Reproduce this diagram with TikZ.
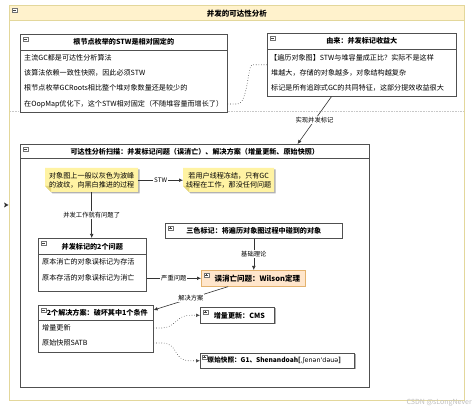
\documentclass[tikz,border=0pt]{standalone}
\usepackage{fontspec}
\setmainfont{Noto Sans CJK SC}
\newfontfamily\ipafont{DejaVu Sans}
\usetikzlibrary{arrows.meta,calc,shadows}

\definecolor{outerline}{HTML}{E3D79B}
\definecolor{outerhead}{HTML}{FFF2CC}
\definecolor{notefill}{HTML}{FFF3A3}
\definecolor{notefold}{HTML}{E6D77A}
\definecolor{wilfill}{HTML}{FFE6CC}
\definecolor{willine}{HTML}{E3B26E}
\definecolor{boxline}{HTML}{505050}
\definecolor{sepline}{HTML}{C8C8C8}

\tikzset{
  txt/.style={font=\fontsize{7.1}{8.5}\selectfont, inner sep=0pt},
  btxt/.style={font=\fontsize{7.1}{8.5}\selectfont\bfseries, inner sep=0pt},
  frame/.style={draw=boxline, line width=0.6pt, fill=white, anchor=north west, inner sep=0pt},
  shadowed/.style={drop shadow={shadow xshift=1.2pt, shadow yshift=-1.2pt, fill=black!45, opacity=0.7}},
  arr/.style={draw=black!80, line width=0.6pt, -{Latex[length=4pt,width=3.6pt]}},
  dotarr/.style={draw=black!70, line width=0.6pt, dotted, -{Latex[length=4pt,width=3.6pt]}},
  lbl/.style={txt, fill=white, inner sep=1pt, font=\fontsize{6.3}{7}\selectfont},
  minusicon/.pic={\draw[black!55, fill=white, line width=0.4pt] (0,0) rectangle (5,4);
                  \draw[black!75, line width=0.5pt] (1,2) -- (4,2);},
  plusicon/.pic={\draw[black!55, fill=white, line width=0.4pt] (0,0) rectangle (5,4);
                 \draw[black!75, line width=0.5pt] (1,2) -- (4,2) (2.5,0.8) -- (2.5,3.2);}
}

\begin{document}
\begin{tikzpicture}[x=1pt,y=-1pt]
\useasboundingbox (0,0) rectangle (474,411);
\fill[white] (0,0) rectangle (474,411);

% outer container
\node[draw=outerline, line width=0.7pt, fill=white, anchor=north west, inner sep=0pt,
      minimum width=455pt, minimum height=395pt] (outer) at (9,5) {};
\fill[outerhead] ($(outer.north west)+(0.4,0.4)$) rectangle ($(outer.north east)+(-0.4,15)$);
\draw[outerline, line width=0.7pt] ($(outer.north west)+(0,15)$) -- ($(outer.north east)+(0,15)$);
\draw[outerline, line width=0.7pt] (outer.north west) rectangle (outer.south east);
\pic at ($(outer.north west)+(3,3)$) {minusicon};
\node[btxt, font=\fontsize{7.5}{9}\selectfont\bfseries] (title) at ($(outer.north)+(0,8.5)$) {并发的可达性分析};

% dotted separator
\draw[sepline, densely dotted, line width=0.6pt] (10,111) -- (463,111);

% left marker
\fill[black!80] (4,202.5) -- (8.5,205) -- (4,207.5) -- (5,205) -- cycle;

% box 1
\node[frame, minimum width=207pt, minimum height=78pt] (b1) at (20,34) {};
\draw[boxline, line width=0.6pt] ($(b1.north west)+(0,16)$) -- ($(b1.north east)+(0,16)$);
\pic at ($(b1.north west)+(3,3)$) {minusicon};
\node[btxt] (b1t) at ($(b1.north)+(0,8)$) {根节点枚举的STW是相对固定的};
\node[txt, anchor=west] (b1r1) at (24,58) {主流GC都是可达性分析算法};
\node[txt, anchor=west] (b1r2) at (24,73) {该算法依赖一致性快照，因此必须STW};
\node[txt, anchor=west] (b1r3) at (24,88) {根节点枚举GCRoots相比整个堆对象数量还是较少的};
\node[txt, anchor=west] (b1r4) at (24,104) {在OopMap优化下，这个STW相对固定（不随堆容量而增长了）};

% box 2
\node[frame, minimum width=189pt, minimum height=63pt] (b2) at (267,33) {};
\draw[boxline, line width=0.6pt] ($(b2.north west)+(0,16)$) -- ($(b2.north east)+(0,16)$);
\pic at ($(b2.north west)+(3,3)$) {minusicon};
\node[btxt] (b2t) at ($(b2.north)+(0,8)$) {由来：并发标记收益大};
\node[txt, anchor=west] (b2r1) at (270,58) {【遍历对象图】STW与堆容量成正比？实际不是这样};
\node[txt, anchor=west] (b2r2) at (271,73) {堆越大，存储的对象越多，对象结构越复杂};
\node[txt, anchor=west] (b2r3) at (271,88) {标记是所有追踪式GC的共同特征，这部分提效收益很大};

\draw[black!75, line width=0.6pt, dotted] (b1.east |- b1r4) -- ++(10,0)
   .. controls +(10,0) and +(-4,0) .. ($(b2.west)+(-15,0)$) -- (b2.west);

% box 3
\node[frame, minimum width=349pt, minimum height=243pt] (b3) at (20,144) {};
\draw[boxline, line width=0.6pt] ($(b3.north west)+(0,14.5)$) -- ($(b3.north east)+(0,14.5)$);
\pic at ($(b3.north west)+(3,3)$) {minusicon};
\node[btxt] (b3t) at ($(b3.north)+(0,7.5)$) {可达性分析扫描：并发标记问题（误消亡）、解决方案（增量更新、原始快照）};

\draw[arr] ($(b2.south west)!0.34!(b2.south east)$) -- node[lbl] {实现并发标记} ($(b3.north west)!0.794!(b3.north east)$);

% note 1
\fill[black!30] (46.5,169.5) -- (139.5,169.5) -- (139.5,193.5) -- (52.5,193.5) -- (46.5,187.5) -- cycle;
\fill[notefill] (45,168) -- (138,168) -- (138,192) -- (51,192) -- (45,186) -- cycle;
\fill[notefold] (45,186) -- (51,186) -- (51,192) -- cycle;
\node[txt, anchor=north west, minimum width=93pt, minimum height=24pt, align=center] (n1) at (45,168)
  {对象图上一般以灰色为波峰\\的波纹，向黑白推进的过程};

% note 2
\fill[black!30] (184.5,169.5) -- (275.5,169.5) -- (275.5,193.5) -- (190.5,193.5) -- (184.5,187.5) -- cycle;
\fill[notefill] (183,168) -- (274,168) -- (274,192) -- (189,192) -- (183,186) -- cycle;
\fill[notefold] (183,186) -- (189,186) -- (189,192) -- cycle;
\node[txt, anchor=north west, minimum width=91pt, minimum height=24pt, align=center] (n2) at (183,168)
  {若用户线程冻结，只有GC\\线程在工作，那没任何问题};

\draw[arr] (n1.east) -- node[lbl] {STW} (n2.west);

% box 4
\node[frame, minimum width=108pt, minimum height=53pt] (b4) at (38,238) {};
\draw[boxline, line width=0.6pt] ($(b4.north west)+(0,16)$) -- ($(b4.north east)+(0,16)$);
\pic at ($(b4.north west)+(3,3)$) {minusicon};
\node[btxt] (b4t) at ($(b4.north)+(0,8.5)$) {并发标记的2个问题};
\node[txt, anchor=west] (b4r1) at (42,262) {原本消亡的对象误标记为存活};
\node[txt, anchor=west] (b4r2) at (42,278) {原本存活的对象误标记为消亡};

\draw[arr] (n1.south) -- node[lbl] {并发工作就有问题了} (n1.south |- b4.north);

% three colour box
\node[frame, minimum width=177pt, minimum height=15pt] (tri) at (165,223) {};
\pic at ($(tri.north west)+(3,3)$) {plusicon};
\node[btxt] (trit) at (tri.center) {三色标记：将遍历对象图过程中碰到的对象};

% Wilson box
\node[draw=willine, line width=0.6pt, fill=wilfill, anchor=north west, inner sep=0pt,
      minimum width=104pt, minimum height=16pt] (wil) at (201,270) {};
\pic at ($(wil.north west)+(3,3)$) {plusicon};
\node[btxt, font=\fontsize{7.5}{9}\selectfont\bfseries] (wilt) at ($(wil.center)+(4,0)$) {误消亡问题：Wilson定理};

\draw[arr] (tri.south) -- node[lbl] {基础理论} (tri.south |- wil.north);
\draw[arr] (b4.east |- wil.west) -- node[lbl] {严重问题} (wil.west);

% box 5
\node[frame, minimum width=115pt, minimum height=47pt] (b5) at (38,305) {};
\draw[boxline, line width=0.6pt] ($(b5.north west)+(0,15)$) -- ($(b5.north east)+(0,15)$);
\pic at ($(b5.north west)+(3,3)$) {minusicon};
\node[btxt] (b5t) at ($(b5.north)+(1.5,7.5)$) {2个解决方案：破坏其中1个条件};
\node[txt, anchor=west] (b5r1) at (42,328) {增量更新};
\node[txt, anchor=west] (b5r2) at (42,343) {原始快照SATB};

\draw[arr] ($(wil.south west)!0.26!(wil.south east)$) -- node[lbl] {解决方案} ($(b5.north east)+(0,5)$);

% CMS box
\node[frame, shadowed, minimum width=74pt, minimum height=16pt] (cms) at (200,307) {};
\pic at ($(cms.north west)+(3,3)$) {plusicon};
\node[btxt] (cmst) at ($(cms.center)+(2,0)$) {增量更新：CMS};

% SATB box
\node[frame, shadowed, minimum width=154pt, minimum height=15pt] (satb) at (200,353) {};
\pic at ($(satb.north west)+(2,2)$) {plusicon};
\node[btxt, anchor=west, font=\fontsize{6.6}{8}\selectfont\bfseries] (satbt) at ($(satb.west)+(7.5,0)$)
  {原始快照：G1、Shenandoah[{\ipafont\mdseries\fontsize{6.4}{8}\selectfont ˌʃenən'dəuə}]};

\draw[dotarr] (b5.east |- b5r1) -- ++(8,0) .. controls +(14,0) and +(-14,0) .. ($(cms.west)+(-10,0)$) -- (cms.west);
\draw[dotarr] (b5.east |- b5r2) -- ++(8,0) .. controls +(18,0) and +(-18,0) .. ($(satb.west)+(-10,0)$) -- (satb.west);

% watermark
\node[txt, text=black!25, font=\fontsize{7}{8}\selectfont, anchor=east] (wm) at (472,403) {CSDN @sLongNever};
\end{tikzpicture}
\end{document}
